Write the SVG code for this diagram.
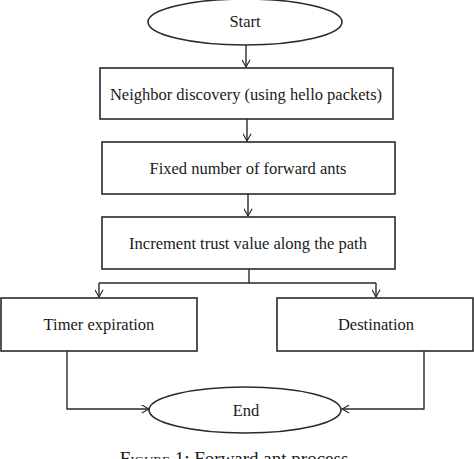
<svg xmlns="http://www.w3.org/2000/svg" width="474" height="459" viewBox="0 0 474 459">
<style>
.n{fill:#fff;stroke:#2a2a2a;stroke-width:1.6}
.t{font-family:"Liberation Serif","DejaVu Serif",serif;font-size:16.5px;fill:#1a1a1a;text-anchor:middle}
.c{fill:none;stroke:#2a2a2a;stroke-width:1.4}
</style>
<defs>
<marker id="ar" viewBox="0 0 10 10" refX="9" refY="5" markerWidth="9" markerHeight="9" markerUnits="userSpaceOnUse" orient="auto">
<path d="M1,0.5 L9,5 L1,9.5" fill="none" stroke="#2a2a2a" stroke-width="1.3"/>
</marker>
</defs>
<rect width="474" height="459" fill="#fff"/>
<g id="connectors">
<path class="c" d="M246,45 V67" marker-end="url(#ar)"/>
<path class="c" d="M247,119 V141" marker-end="url(#ar)"/>
<path class="c" d="M248,194 V216" marker-end="url(#ar)"/>
<path class="c" d="M249,269 V283 M99,283 H376"/>
<path class="c" d="M99,283 V297" marker-end="url(#ar)"/>
<path class="c" d="M376,283 V297" marker-end="url(#ar)"/>
<path class="c" d="M67,351 V409 H149" marker-end="url(#ar)"/>
<path class="c" d="M424,351 V409 H342" marker-end="url(#ar)"/>
</g>
<g id="start">
<ellipse class="n" cx="245" cy="22" rx="97" ry="23"/>
<text class="t" x="245" y="27">Start</text>
</g>
<g id="neighbor">
<rect class="n" x="100" y="68" width="293" height="51"/>
<text class="t" x="246" y="100">Neighbor discovery (using hello packets)</text>
</g>
<g id="fixed">
<rect class="n" x="102" y="142" width="293" height="52"/>
<text class="t" x="248" y="174">Fixed number of forward ants</text>
</g>
<g id="increment">
<rect class="n" x="102" y="217" width="293" height="52"/>
<text class="t" x="248" y="249">Increment trust value along the path</text>
</g>
<g id="timer">
<rect class="n" x="1" y="298" width="196" height="53"/>
<text class="t" x="99" y="330">Timer expiration</text>
</g>
<g id="destination">
<rect class="n" x="277" y="298" width="196" height="53"/>
<text class="t" x="376" y="330">Destination</text>
</g>
<g id="end">
<ellipse class="n" cx="245" cy="410" rx="96" ry="23"/>
<text class="t" x="246" y="416">End</text>
</g>
<text class="t" x="234" y="465" style="font-size:19px"><tspan style="font-variant:small-caps">Figure</tspan> 1: Forward ant process</text>
</svg>
